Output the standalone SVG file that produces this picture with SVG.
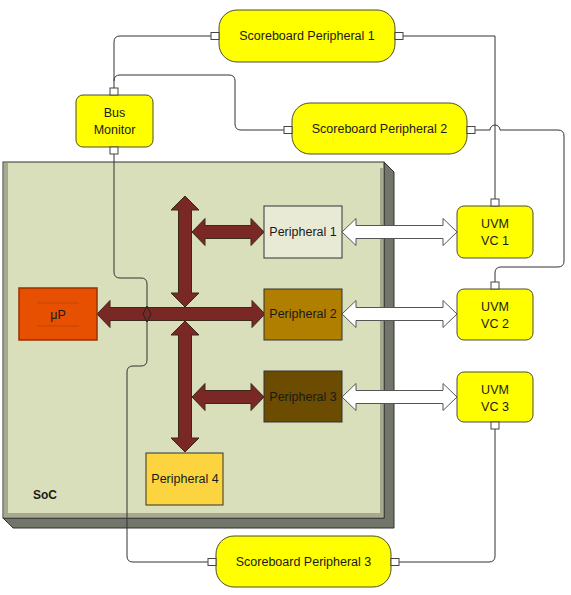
<svg xmlns="http://www.w3.org/2000/svg" width="571" height="595" viewBox="0 0 571 595">
<style>
text{font-family:"Liberation Sans","DejaVu Sans",sans-serif;font-size:12.5px;fill:#1a1a1a;text-anchor:middle}
.yel{fill:#ffff00;stroke:#4d4d33;stroke-width:1}
.port{fill:#fff;stroke:#444;stroke-width:1}
.bus{fill:#7a2825;stroke:#3a2a1a;stroke-width:1}
.warr{fill:#fff;stroke:#555;stroke-width:1}
.con{fill:none;stroke:#333;stroke-width:1}
.per{stroke:#333;stroke-width:1}
</style>
<g id="soc">
<polygon points="384,162 394,172 394,528 13,528 3,518 384,518" fill="#72756a" stroke="#333" stroke-width="1"/>
<rect x="3" y="162" width="381" height="356" fill="#d9dfbb" stroke="#333" stroke-width="1"/>
<rect x="4" y="163" width="4" height="354" fill="#a6a98f"/>
<rect x="380" y="168" width="3" height="349" fill="#a6a98f"/>
<rect x="8" y="513" width="372" height="4" fill="#a6a98f"/>
<text x="45" y="499" style="font-weight:bold;font-size:12px">SoC</text>
</g>
<g id="bus-arrows">
<path class="bus" d="M185,196 L199,210 L191.5,210 L191.5,293 L199,293 L185,307 L171,293 L178.5,293 L178.5,210 L171,210 Z"/>
<path class="bus" d="M185,321 L199,335 L191.5,335 L191.5,438 L199,438 L185,452 L171,438 L178.5,438 L178.5,335 L171,335 Z"/>
<path class="bus" d="M97,314 L110,300.5 L110,307.5 L252,307.5 L252,300.5 L265,314 L252,327.5 L252,320.5 L110,320.5 L110,327.5 Z"/>
<path class="bus" d="M192,232 L205,218.5 L205,225.5 L251,225.5 L251,218.5 L264,232 L251,245.5 L251,238.5 L205,238.5 L205,245.5 Z"/>
<path class="bus" d="M192,397 L205,383.5 L205,390.5 L251,390.5 L251,383.5 L264,397 L251,410.5 L251,403.5 L205,403.5 L205,410.5 Z"/>
</g>
<g id="up">
<rect x="19" y="288" width="78" height="52" fill="#e65000" stroke="#9a3000" stroke-width="1.5"/>
<line x1="37" y1="303" x2="79" y2="303" stroke="#c04400" stroke-width="1"/>
<line x1="37" y1="326" x2="79" y2="326" stroke="#c04400" stroke-width="1"/>
<text x="58" y="319">μP</text>
</g>
<g id="peripheral1">
<rect class="per" x="264" y="206" width="78" height="52" fill="#e8ead6"/>
<text x="303" y="236">Peripheral 1</text>
</g>
<g id="peripheral2">
<rect class="per" x="264" y="289" width="78" height="51" fill="#b07f00"/>
<text x="303" y="318">Peripheral 2</text>
</g>
<g id="peripheral3">
<rect class="per" x="264" y="371" width="78" height="51" fill="#6b4c00"/>
<text x="303" y="401">Peripheral 3</text>
</g>
<g id="peripheral4">
<rect class="per" x="146" y="453" width="77" height="52" fill="#fbd43f"/>
<text x="185" y="483">Peripheral 4</text>
</g>
<g id="connectors">
<path class="con" d="M212,36 H120 Q114,36 114,42 V88"/>
<path class="con" d="M114,81 Q114,75 120,75 H229 Q235,75 235,81 V124 Q235,130 241,130 H284"/>
<path class="con" d="M403,36 H495 V199"/>
<path class="con" d="M475,130 H490 A5,5 0 0 1 500,130 H558 Q564,130 564,136 V261 Q564,267 558,267 H501 Q495,267 495,273 V282" stroke="#444"/>
<path class="con" d="M114,154 V272 Q114,278 120,278 H141 Q147,278 147,284 V360 Q147,366 141,366 H133 Q127,366 127,372 V556 Q127,562 133,562 H208"/>
<path class="con" d="M495,429 V556 Q495,562 489,562 H399"/>
<path d="M147,306 L151,314 L147,322 L143,314 Z" fill="#7a2825" stroke="#222" stroke-width="1"/>
</g>
<g id="bus-monitor">
<rect class="yel" x="76" y="95" width="77" height="52" rx="7"/>
<rect class="port" x="110" y="88" width="8" height="7"/>
<rect class="port" x="110" y="147" width="8" height="7"/>
<text x="114.5" y="117">Bus</text>
<text x="114.5" y="134">Monitor</text>
</g>
<g id="scoreboard1">
<rect class="yel" x="219" y="10" width="176" height="52" rx="18"/>
<rect class="port" x="211" y="32.5" width="8" height="7"/>
<rect class="port" x="395" y="32.5" width="8" height="7"/>
<text x="307" y="40">Scoreboard Peripheral 1</text>
</g>
<g id="scoreboard2">
<rect class="yel" x="292" y="103" width="175" height="51" rx="18"/>
<rect class="port" x="284" y="126.5" width="8" height="7"/>
<rect class="port" x="467" y="126.5" width="8" height="7"/>
<text x="379.5" y="133">Scoreboard Peripheral 2</text>
</g>
<g id="scoreboard3">
<rect class="yel" x="216" y="536" width="175" height="51" rx="18"/>
<rect class="port" x="208" y="558.5" width="8" height="7"/>
<rect class="port" x="391" y="558.5" width="8" height="7"/>
<text x="303.5" y="566">Scoreboard Peripheral 3</text>
</g>
<g id="uvm-vc1">
<rect class="yel" x="457" y="206" width="76" height="52" rx="7"/>
<rect class="port" x="491" y="199" width="8" height="7"/>
<text x="495" y="228">UVM</text>
<text x="495" y="245">VC 1</text>
</g>
<g id="uvm-vc2">
<rect class="yel" x="457" y="289" width="76" height="51" rx="7"/>
<rect class="port" x="491" y="282" width="8" height="7"/>
<text x="495" y="311">UVM</text>
<text x="495" y="328">VC 2</text>
</g>
<g id="uvm-vc3">
<rect class="yel" x="457" y="372" width="76" height="50" rx="7"/>
<rect class="port" x="491" y="422" width="8" height="7"/>
<text x="495" y="394">UVM</text>
<text x="495" y="411">VC 3</text>
</g>
<g id="white-arrows">
<path class="warr" d="M342,232 L356,218.5 L356,225.5 L443,225.5 L443,218.5 L457,232 L443,245.5 L443,238.5 L356,238.5 L356,245.5 Z"/>
<path class="warr" d="M342,314 L356,300.5 L356,307.5 L443,307.5 L443,300.5 L457,314 L443,327.5 L443,320.5 L356,320.5 L356,327.5 Z"/>
<path class="warr" d="M342,397 L356,383.5 L356,390.5 L443,390.5 L443,383.5 L457,397 L443,410.5 L443,403.5 L356,403.5 L356,410.5 Z"/>
</g>
</svg>
